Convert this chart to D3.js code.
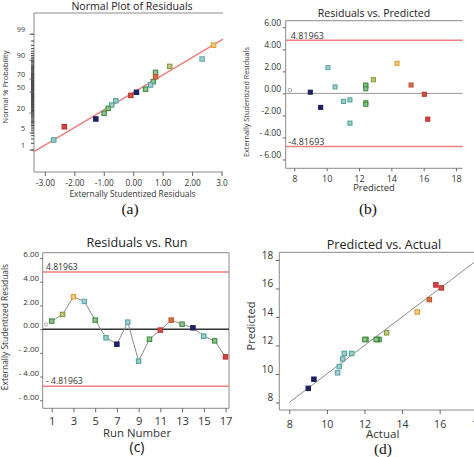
<!DOCTYPE html>
<html>
<head>
<meta charset="utf-8">
<script src="https://cdn.jsdelivr.net/npm/d3@7"></script>
<style>
  body { margin: 0; background: #fff; }
  svg { display: block; font-family: "Open Sans", sans-serif; }
</style>
</head>
<body>
<svg id="chart" width="474" height="457"></svg>
<script>
// ---- data (one entry per run) ----
const runs = [1, 2, 3, 4, 5, 6, 7, 8, 9, 10, 11, 12, 13, 14, 15, 16, 17];
const residuals = [0.68, 1.24, 2.73, 2.34, 0.76, -0.73, -1.27, 0.59, -2.70, -0.85, -0.08, 0.76, 0.42, 0.11, -0.59, -0.99, -2.34];
const predicted = [12.42, 12.89, 14.35, 10.08, 12.42, 11.05, 9.63, 10.52, 11.44, 12.42, 16.04, 15.22, 12.42, 8.99, 11.44, 12.42, 16.25];
const actual = [12.78, 13.18, 14.81, 10.57, 12.68, 10.84, 9.31, 10.66, 10.93, 12.08, 16.09, 15.45, 12.62, 9.01, 11.32, 12.02, 15.80];
const normalPct = [65.5, 84.5, 96.9, 90.5, 78, 29.5, 13.6, 60.5, 2.6, 25.1, 44, 72.5, 54, 49, 35.7, 19.2, 7.9];

// normal-plot reference line, [residual, %] at its two ends
const normalLine = [[-3.37, 0.8], [3.05, 98.26]];
const limit = 4.81963;
const limitLabelsB = ["4.81963", "-4.81693"];
const limitLabelsC = ["4.81963", "- 4.81963"];
const outlierB = [7.73, 0.3];   // small open marker at left edge of (b)
const outlierC = [0.47, 0.4];   // same on (c)
const diagonal = [8, 18.3];

// ticks
const aXTicks = [-3, -2, -1, 0, 1, 2, 3];
const aXLabels = ["-3.00", "-2.00", "-1.00", "0.00", "1.00", "2.00", "3.0"];
const aYTicks = [1, 5, 20, 50, 70, 90, 99];
const residTicks = [6, 4, 2, 0, -2, -4, -6];
const residLabelsB = ["6.00", "4.00", "2.00", "0.00", "-2.00", "- 4.00", "- 6.00"];
const residLabelsC = ["6.00", "4.00", "2.00", "0.00", "- 2.00", "- 4.00", "- 6.00"];
const predTicks = [8, 10, 12, 14, 16, 18];
const runTicks = [1, 3, 5, 7, 9, 11, 13, 15, 17];

const rows = runs.map((r, i) => ({
  run: r, res: residuals[i], pred: predicted[i], act: actual[i], pct: normalPct[i]
}));

// point colour follows the predicted response (low = navy, high = red)
const colour = d3.scaleLinear()
  .domain([9, 9.7, 10.0, 11.5, 12.4, 12.9, 14.4, 15.2, 16.3])
  .range(["#1c2260", "#1c2260", "#5fa6ae", "#4fa49a", "#3b8f3f", "#8a9a38", "#e0a030", "#c25a2e", "#c02828"])
  .clamp(true);
const fillOf = d => d3.interpolateRgb(colour(d.pred), "#fff")(d.pred < 9.8 ? 0 : d.pred > 15 ? 0.15 : 0.45);

// inverse normal cdf (Abramowitz & Stegun 26.2.23)
function probit(p) {
  const q = p < 0.5 ? p : 1 - p;
  const t = Math.sqrt(-2 * Math.log(q));
  const z = t - (2.515517 + 0.802853 * t + 0.010328 * t * t) /
    (1 + 1.432788 * t + 0.189269 * t * t + 0.001308 * t * t * t);
  return p < 0.5 ? -z : z;
}

const svg = d3.select("#chart");
svg.append("rect").attr("width", 474).attr("height", 457).attr("fill", "#fff");

const FRAME = "#8a8a8a";
const RED = "#ee8080";

function styleAxis(g, fs, dy) {
  g.attr("font-family", null).attr("font-size", fs);
  g.select(".domain").remove();
  g.selectAll(".tick line").attr("stroke", "#666");
  g.selectAll(".tick text").attr("fill", "#333");
  if (dy != null) g.selectAll(".tick text").attr("dy", dy);
  return g;
}

function frame(g, x0, y0, x1, y1, sides) {
  const segs = {
    top: [x0, y0, x1, y0], left: [x0, y0, x0, y1],
    bottom: [x0, y1, x1, y1], right: [x1, y0, x1, y1]
  };
  sides.forEach(s => {
    const [a, b, c, d] = segs[s];
    g.append("line").attr("x1", a).attr("y1", b).attr("x2", c).attr("y2", d)
      .attr("stroke", FRAME).attr("stroke-width", 1);
  });
}

function text(g, x, y, str, fs, opts = {}) {
  const t = g.append("text").attr("x", x).attr("y", y).text(str)
    .attr("font-size", fs).attr("fill", opts.fill || "#222")
    .attr("text-anchor", opts.anchor || "middle");
  if (opts.family) t.attr("font-family", opts.family);
  if (opts.rotate) t.attr("transform", `rotate(-90,${x},${y})`);
  return t;
}

function squares(g, data, fx, fy, size) {
  g.selectAll(null).data(data).enter().append("rect")
    .attr("x", d => fx(d) - size / 2)
    .attr("y", d => fy(d) - size / 2)
    .attr("width", size).attr("height", size)
    .attr("fill", fillOf)
    .attr("stroke", d => colour(d.pred))
    .attr("stroke-width", 1.1);
}

// ================= (a) Normal Plot of Residuals =================
{
  const g = svg.append("g");
  const x = d3.scaleLinear().domain([-3.37, 3.05]).range([34, 223]);
  const y = d3.scaleLinear().domain([-3.23, 3.16]).range([172, 13]);
  const yp = p => y(probit(p / 100));

  frame(g, 34, 13, 223, 172, ["top", "left", "bottom"]);

  g.append("g").attr("transform", "translate(34,0)")
    .call(d3.axisLeft(y).tickValues(d3.range(1, 100).map(p => probit(p / 100)))
      .tickFormat("").tickSize(3))
    .call(s => styleAxis(s, 7))
    .call(s => s.selectAll(".tick line").attr("stroke", "#444"));
  g.append("g").attr("transform", "translate(34,0)")
    .call(d3.axisLeft(y).tickValues(aYTicks.map(p => probit(p / 100)))
      .tickFormat((d, i) => aYTicks[i]).tickSize(4.5).tickPadding(4.5))
    .call(s => styleAxis(s, 7.2, -1.8));

  g.append("g").attr("transform", "translate(0,172)")
    .call(d3.axisBottom(x).tickValues(aXTicks).tickFormat((d, i) => aXLabels[i])
      .tickSize(4).tickPadding(4))
    .call(s => styleAxis(s, 8.3));

  g.append("line")
    .attr("x1", x(normalLine[0][0])).attr("y1", yp(normalLine[0][1]))
    .attr("x2", x(normalLine[1][0])).attr("y2", yp(normalLine[1][1]))
    .attr("stroke", RED).attr("stroke-width", 1.6);

  squares(g, rows, d => x(d.res), d => yp(d.pct), 4.4);

  text(g, 132, 9.5, "Normal Plot of Residuals", 10.6);
  text(g, 132.5, 196.5, "Externally Studentized Residuals", 8.4, { fill: "#333" });
  text(g, 8, 87, "Normal % Probability", 7.4, { fill: "#333", rotate: true });
  text(g, 130, 214, "(a)", 15.5, { family: "Liberation Serif", fill: "#111" });
}

// ================= (b) Residuals vs. Predicted =================
{
  const g = svg.append("g");
  const x = d3.scaleLinear().domain([7.47, 18.41]).range([285.7, 462.7]);
  const y = d3.scaleLinear().domain([-6.8, 6.6]).range([168.3, 20.7]);

  frame(g, 285.7, 20.7, 462.7, 168.3, ["top", "left", "bottom"]);

  g.append("g").attr("transform", "translate(285.7,0)")
    .call(d3.axisLeft(y).tickValues(residTicks).tickFormat((d, i) => residLabelsB[i])
      .tickSize(3).tickPadding(1.5))
    .call(s => styleAxis(s, 8.6, -2));
  g.append("g").attr("transform", "translate(0,168.3)")
    .call(d3.axisBottom(x).tickValues(predTicks).tickSize(3).tickPadding(4.4))
    .call(s => styleAxis(s, 9));

  g.append("line").attr("x1", 285.7).attr("x2", 462.7)
    .attr("y1", y(0)).attr("y2", y(0)).attr("stroke", "#9a9a9a").attr("stroke-width", 1);
  [limit, -limit].forEach((v, i) => {
    g.append("line").attr("x1", 285.7).attr("x2", 462.7)
      .attr("y1", y(v)).attr("y2", y(v)).attr("stroke", RED).attr("stroke-width", 1.5);
    text(g, i ? 288.3 : 290.7, y(v) - 1.3, limitLabelsB[i], 9, { anchor: "start", fill: "#333" });
  });

  g.append("circle").attr("cx", x(outlierB[0])).attr("cy", y(outlierB[1])).attr("r", 1.8)
    .attr("fill", "none").attr("stroke", "#999").attr("stroke-width", 0.8);
  squares(g, rows, d => x(d.pred), d => y(d.res), 4);

  text(g, 374, 16.5, "Residuals vs. Predicted", 10.6);
  text(g, 374, 191, "Predicted", 9.4, { fill: "#333" });
  text(g, 249, 102, "Externally Studentized Residuals", 7.3, { fill: "#333", rotate: true });
  text(g, 368, 213.5, "(b)", 15.5, { family: "Liberation Serif", fill: "#111" });
}

// ================= (c) Residuals vs. Run =================
{
  const g = svg.append("g");
  const x = d3.scaleLinear().domain([0.17, 17.32]).range([42.7, 229]);
  const y = d3.scaleLinear().domain([-6.68, 6.45]).range([408.3, 252.7]);

  frame(g, 42.7, 252.7, 229, 408.3, ["top", "left", "bottom", "right"]);

  g.append("g").attr("transform", "translate(42.7,0)")
    .call(d3.axisLeft(y).tickValues(residTicks).tickFormat((d, i) => residLabelsC[i])
      .tickSize(2.5).tickPadding(1))
    .call(s => styleAxis(s, 8, -1.2));
  g.append("g").attr("transform", "translate(0,408.3)")
    .call(d3.axisBottom(x).tickValues(runTicks).tickSize(4).tickPadding(5))
    .call(s => styleAxis(s, 11.2));

  g.append("line").attr("x1", 42.7).attr("x2", 229)
    .attr("y1", y(0)).attr("y2", y(0)).attr("stroke", "#333").attr("stroke-width", 1.5);
  [limit, -limit].forEach((v, i) => {
    g.append("line").attr("x1", 42.7).attr("x2", 229)
      .attr("y1", y(v)).attr("y2", y(v)).attr("stroke", RED).attr("stroke-width", 1.5);
    text(g, 46, y(v) - 2, limitLabelsC[i], 8.6, { anchor: "start", fill: "#333" });
  });

  g.append("path").datum(rows)
    .attr("d", d3.line().x(d => x(d.run)).y(d => y(d.res)))
    .attr("fill", "none").attr("stroke", "#8a8a8a").attr("stroke-width", 1);
  g.append("circle").attr("cx", x(outlierC[0])).attr("cy", y(outlierC[1])).attr("r", 1.6)
    .attr("fill", "none").attr("stroke", "#999").attr("stroke-width", 0.8);
  squares(g, rows, d => x(d.run), d => y(d.res), 4.4);

  text(g, 137, 246.7, "Residuals vs. Run", 12.6);
  text(g, 137, 437, "Run Number", 11.4, { fill: "#333" });
  text(g, 8, 327, "Externally Studentized Residuals", 8.4, { fill: "#333", rotate: true });
  text(g, 137, 451.5, "(c)", 14, { fill: "#111" });
}

// ================= (d) Predicted vs. Actual =================
{
  const g = svg.append("g");
  const x = d3.scaleLinear().domain([7.47, 18.3]).range([279.3, 279.3 + 10.83 * 18.8]);
  const y = d3.scaleLinear().domain([7.47, 18.54]).range([410, 252.3]);

  frame(g, 279.3, 252.3, 480, 410, ["top", "left", "bottom"]);

  g.append("g").attr("transform", "translate(279.3,0)")
    .call(d3.axisLeft(y).tickValues(predTicks).tickSize(3.5).tickPadding(2.5))
    .call(s => styleAxis(s, 10, -1.6));
  g.append("g").attr("transform", "translate(0,410)")
    .call(d3.axisBottom(x).tickValues(predTicks).tickSize(4).tickPadding(6))
    .call(s => styleAxis(s, 10.6));

  g.append("line")
    .attr("x1", x(diagonal[0])).attr("y1", y(diagonal[0]))
    .attr("x2", x(diagonal[1])).attr("y2", y(diagonal[1]))
    .attr("stroke", "#8a8a8a").attr("stroke-width", 1);

  squares(g, rows, d => x(d.act), d => y(d.pred), 4.4);

  text(g, 384, 249.3, "Predicted vs. Actual", 12.6);
  text(g, 382.7, 437.5, "Actual", 11.5, { fill: "#333" });
  text(g, 255, 326, "Predicted", 11, { fill: "#333", rotate: true });
  text(g, 383, 453.6, "(d)", 15.5, { family: "Liberation Serif", fill: "#111" });
}
</script>
</body>
</html>
